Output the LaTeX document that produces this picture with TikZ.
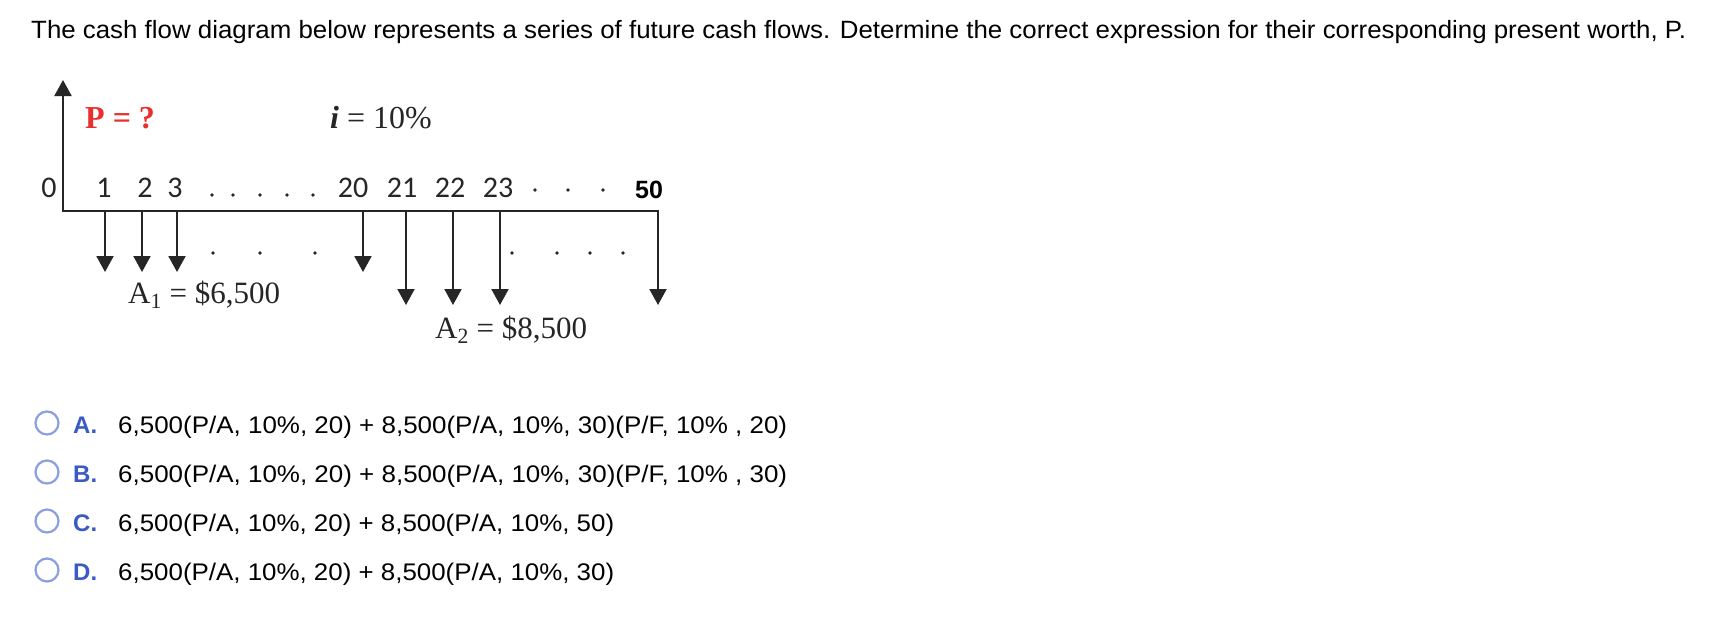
\documentclass[tikz,border=0pt]{standalone}
\usepackage{fontspec}
\usepackage{graphicx}
\setmainfont{Liberation Serif}
\newfontfamily\arial{Liberation Sans}
\newfontfamily\carl{Carlito}
\usetikzlibrary{arrows.meta}
\definecolor{pred}{HTML}{E8312F}
\definecolor{optblue}{HTML}{3B5BC4}
\definecolor{circ}{HTML}{8C9DE0}
\definecolor{ink}{HTML}{262626}
\newsavebox\fitbox
\newlength\fitlen
\newcommand\fitto[2]{\sbox\fitbox{#2}\setlength\fitlen{\wd\fitbox}\pgfmathsetmacro\fitratio{#1/\fitlen}\scalebox{\fitratio}[1]{\usebox\fitbox}}
\begin{document}
\begin{tikzpicture}[x=1pt,y=-1pt,
  axis/.style={line width=2pt, draw=ink, line join=miter},
  tip/.style={-{Triangle[width=17pt,length=16pt]}},
  num/.style={anchor=base, inner sep=0, font=\carl\fontsize{30}{30}\selectfont, text=ink},
  lbl/.style={anchor=base west, inner sep=0, font=\fontsize{31}{31}\selectfont, text=ink},
  dotc/.style={fill=ink, draw=none},
  opt/.style={anchor=base west, inner sep=0, font=\arial\fontsize{24}{24}\selectfont, text=black},
  optl/.style={anchor=base west, inner sep=0, font=\arial\bfseries\fontsize{24}{24}\selectfont, text=optblue},
  radio/.style={circle, draw=circ, line width=2.2pt, minimum size=23pt, inner sep=0}]
\useasboundingbox[fill=white] (0,0) rectangle (1726,624);

% title
\node[anchor=base west, inner sep=0, font=\arial\fontsize{25}{25}\selectfont] (title) at (31,38)
  {\fitto{1655}{The cash flow diagram below represents a series of future cash flows. Determine the correct expression for their corresponding present worth, P.}};

% axes
\coordinate (ytop) at (63,80);
\coordinate (o) at (63,211);
\coordinate (e) at (658,211);
\coordinate (b50) at (658,305);
\draw[axis, {Triangle[width=17pt,length=16pt]}-{Triangle[width=17pt,length=16pt]}] (ytop) -- (o) -- (e) -- (b50);

% cash flow arrows
\foreach \n/\x/\y in {1/105/272, 2/142/272, 3/177/272, 20/363/272, 21/406/305, 22/453/305, 23/500/305} {
  \coordinate (t\n) at (\x,211);
  \coordinate (b\n) at (\x,\y);
  \draw[axis, tip] (t\n) -- (b\n);
}

% period labels
\node[num] (l0) at (49,197) {0};
\node[num] (l1) at (104,197) {1};
\node[num] (l2) at (145,197) {2};
\node[num] (l3) at (175,197) {3};
\node[num] (l20) at (353,197) {20};
\node[num] (l21) at (402,197) {21};
\node[num] (l22) at (450,197) {22};
\node[num] (l23) at (498,197) {23};
\node[anchor=base, inner sep=0, font=\arial\bfseries\fontsize{25}{25}\selectfont, text=black] (l50) at (649,198) {50};

% dots
\foreach \x in {212,233,260,287,313} \fill[dotc] (\x,195) circle (1.9);
\foreach \x in {535,568,603} \fill[dotc] (\x,190) circle (1.9);
\foreach \x in {213,260,315,512,557,590,623} \fill[dotc] (\x,253) circle (1.9);

% labels
\node[lbl, text=pred, font=\bfseries\fontsize{32}{32}\selectfont] (pq) at (85,128) {P = ?};
\node[lbl, font=\fontsize{32}{32}\selectfont] (rate) at (330,128) {\textbf{\textit{i}} = 10\%};
\node[lbl] (a1) at (128,303) {A\textsubscript{1} = \$6,500};
\node[lbl] (a2) at (435,338) {A\textsubscript{2} = \$8,500};

% options
\node[radio] (ra) at (47,423) {};
\node[radio] (rb) at (47,472) {};
\node[radio] (rc) at (47,521) {};
\node[radio] (rd) at (47,570) {};
\node[optl] (la) at (73,433) {A.};
\node[optl] (lb) at (73,482) {B.};
\node[optl] (lc) at (73,531) {C.};
\node[optl] (ld) at (73,580) {D.};
\node[opt] (oa) at (118,433) {\fitto{669}{6,500(P/A, 10\%, 20) + 8,500(P/A, 10\%, 30)(P/F, 10\% , 20)}};
\node[opt] (ob) at (118,482) {\fitto{669}{6,500(P/A, 10\%, 20) + 8,500(P/A, 10\%, 30)(P/F, 10\% , 30)}};
\node[opt] (oc) at (118,531) {\fitto{496}{6,500(P/A, 10\%, 20) + 8,500(P/A, 10\%, 50)}};
\node[opt] (od) at (118,580) {\fitto{496}{6,500(P/A, 10\%, 20) + 8,500(P/A, 10\%, 30)}};
\end{tikzpicture}
\end{document}
